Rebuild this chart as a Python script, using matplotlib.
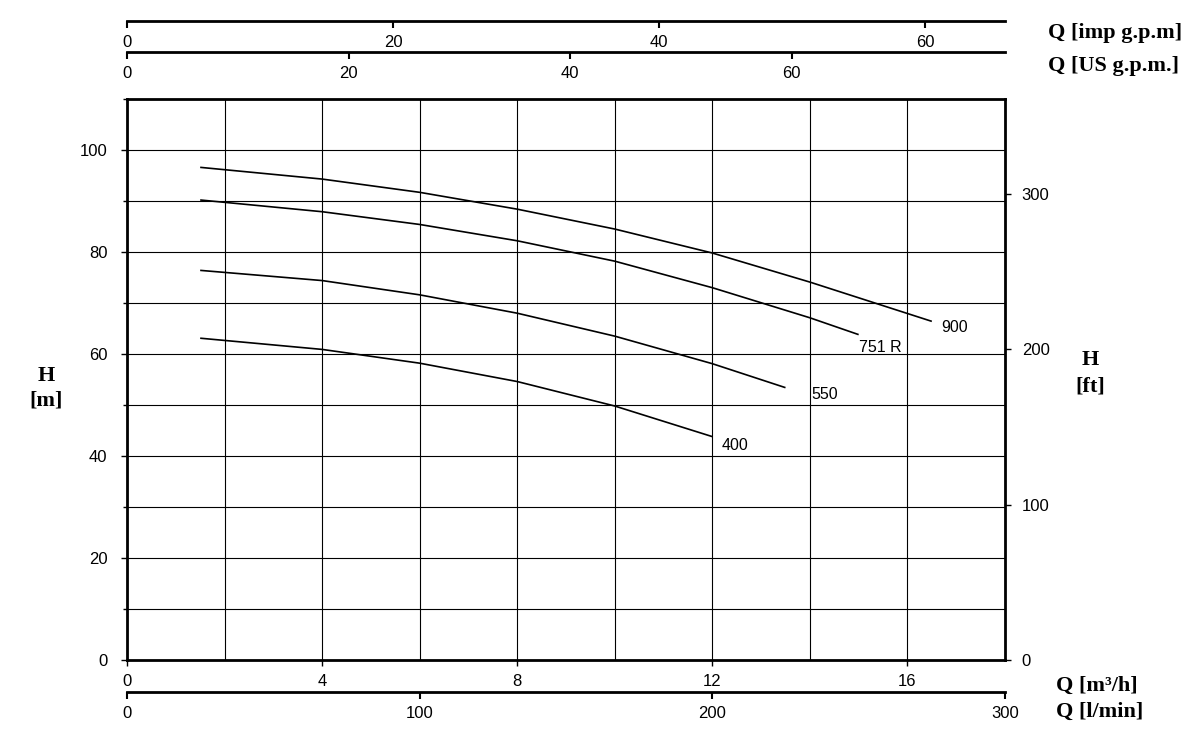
import matplotlib
matplotlib.use("Agg")
import matplotlib.pyplot as plt

# ---------------- data ----------------
q_900 = [1.5, 4, 6, 8, 10, 12, 14, 16.5]
h_900 = [96.6, 94.3, 91.7, 88.4, 84.5, 79.8, 74.1, 66.4]

q_751 = [1.5, 4, 6, 8, 10, 12, 14, 15]
h_751 = [90.2, 87.9, 85.4, 82.2, 78.2, 73.0, 67.1, 63.8]

q_550 = [1.5, 4, 6, 8, 10, 12, 13.5]
h_550 = [76.4, 74.4, 71.6, 68.0, 63.5, 58.1, 53.4]

q_400 = [1.5, 4, 6, 8, 10, 12]
h_400 = [63.1, 60.9, 58.2, 54.6, 49.8, 43.8]

curve_names = ["900", "751 R", "550", "400"]

q_m3h_ticks = [0, 4, 8, 12, 16]
q_lmin_ticks = [0, 100, 200, 300]
q_us_ticks = [0, 20, 40, 60]
q_imp_ticks = [0, 20, 40, 60]
h_m_ticks = [0, 20, 40, 60, 80, 100]
h_ft_ticks = [0, 100, 200, 300]

# ---------------- layout ----------------
W, H = 1194, 732
fig = plt.figure(figsize=(W / 100, H / 100), dpi=100)

SANS = ["Liberation Sans", "DejaVu Sans"]
SERIF = ["Liberation Serif", "DejaVu Serif"]
TICK_FS = 12
LAB_FS = 16
SPINE_LW = 2.0


def rect(x0, y0, x1, y1):
    return [x0 / W, 1 - y1 / H, (x1 - x0) / W, (y1 - y0) / H]


L, R, T, B = 127, 1005, 99, 660
QMAX = 18.0
HMAX = 110.0

ax = fig.add_axes(rect(L, T, R, B))
ax.set_xlim(0, QMAX)
ax.set_ylim(0, HMAX)

for s in ax.spines.values():
    s.set_linewidth(SPINE_LW)

ax.set_xticks(q_m3h_ticks)
ax.set_xticks([i for i in range(0, 19, 2)], minor=True)
ax.set_yticks(h_m_ticks)
ax.set_yticks([i for i in range(0, 111, 10)], minor=True)
ax.grid(which="both", color="black", linewidth=0.8)
ax.tick_params(axis="x", which="major", direction="out", length=4, width=1,
               pad=6, labelsize=TICK_FS)
ax.tick_params(axis="x", which="minor", length=0)
ax.tick_params(axis="y", which="major", direction="out", length=4, width=1,
               pad=10, labelsize=TICK_FS)
ax.tick_params(axis="y", which="minor", direction="out", length=3, width=1)
for lab in ax.get_xticklabels() + ax.get_yticklabels():
    lab.set_family(SANS)

series = [(q_900, h_900), (q_751, h_751), (q_550, h_550), (q_400, h_400)]
label_offsets = [(9, -6), (0, -13), (26, -7), (9, -9)]
for (q, h), name, off in zip(series, curve_names, label_offsets):
    ax.plot(q, h, color="black", linewidth=1.2, solid_capstyle="butt",
            solid_joinstyle="round")
    ax.annotate(name, (q[-1], h[-1]), xytext=off, textcoords="offset pixels",
                ha="left", va="center", fontsize=11.5, family=SANS)

# right axis: H [ft]
axr = ax.twinx()
axr.set_ylim(0, HMAX / 0.3048)
axr.set_yticks(h_ft_ticks)
axr.tick_params(axis="y", direction="out", length=4, width=1, pad=8,
                labelsize=TICK_FS)
for lab in axr.get_yticklabels():
    lab.set_family(SANS)
for s in axr.spines.values():
    s.set_visible(False)


def line_axis(ypix, xmax, ticks):
    a = fig.add_axes([L / W, 1 - ypix / H, (R - L) / W, 0.0001])
    a.set_xlim(0, xmax)
    a.set_ylim(0, 1)
    a.patch.set_visible(False)
    for k, s in a.spines.items():
        s.set_visible(k == "bottom")
    a.spines["bottom"].set_linewidth(SPINE_LW)
    a.set_yticks([])
    a.set_xticks(ticks)
    a.tick_params(axis="x", direction="out", length=5, width=1.5, pad=5,
                  labelsize=TICK_FS)
    for lab in a.get_xticklabels():
        lab.set_family(SANS)
    return a


LMIN_PER_M3H = 1000.0 / 60.0
line_axis(692, QMAX * LMIN_PER_M3H, q_lmin_ticks)
line_axis(52, QMAX * LMIN_PER_M3H / 3.785411784, q_us_ticks)
line_axis(21, QMAX * LMIN_PER_M3H / 4.54609, q_imp_ticks)

# unit labels
def ftext(x, y, s, ha="left"):
    fig.text(x / W, 1 - y / H, s, ha=ha, va="center", fontsize=LAB_FS,
             fontweight="bold", family=SERIF)

ftext(1048, 33, "Q [imp g.p.m]")
ftext(1048, 66, "Q [US g.p.m.]")
ftext(1056, 686, "Q [m³/h]")
ftext(1056, 712, "Q [l/min]")
ftext(46, 376, "H", ha="center")
ftext(46, 401, "[m]", ha="center")
ftext(1090, 360, "H", ha="center")
ftext(1090, 386, "[ft]", ha="center")

fig.savefig("out.png", dpi=100)
